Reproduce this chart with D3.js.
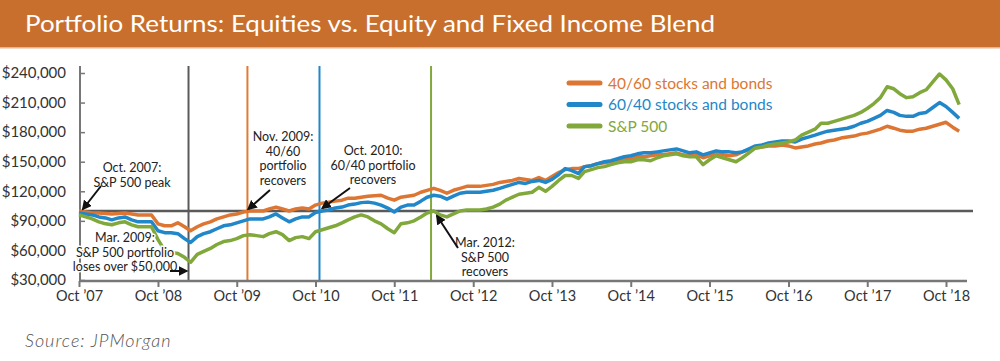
<!DOCTYPE html>
<html>
<head>
<meta charset="utf-8">
<script src="https://cdn.jsdelivr.net/npm/d3@7"></script>
<style>
  body { margin: 0; background: #fff; }
  svg { display: block; font-family: Lato, 'Open Sans', sans-serif; }
</style>
</head>
<body>
<div id="chart"></div>
<script>
const width = 1000;
const height = 361;

// chart data (values in $1,000s, monthly from Oct 2007)
const startMonth = '2007-10';
const endMonth = '2018-12';
const seriesNames = ['40/60 stocks and bonds', '60/40 stocks and bonds', 'S&P 500'];
const seriesColors = ['#dc7632', '#2187c9', '#80a83b'];

const blend4060 = [
  100, 99, 98, 98, 97.5, 97, 97.5, 98, 97, 96,
  96, 96, 87, 85, 85, 88, 84, 80, 84, 87,
  89, 92, 94, 96, 97, 99, 100, 100, 100, 102,
  104, 102, 100, 102, 103, 102, 106, 108, 109, 110,
  111, 113, 113, 114, 115, 115.5, 116, 113, 111, 114,
  115, 116, 119, 121, 123, 121, 118, 121, 123, 125,
  125, 125, 126, 127, 129, 130, 131, 133, 132, 131,
  134, 131, 135, 139, 142, 143, 143, 145, 146, 148,
  149, 150, 151, 152, 153, 155, 155, 156, 157, 157,
  158, 159, 157, 156, 157, 154, 156, 158, 157, 156,
  157, 160, 162, 164, 165, 166, 166, 167, 166, 164,
  165, 166, 168, 169, 171, 172, 174, 175, 176, 178,
  179, 181, 183, 186, 184, 182, 181, 181, 183, 184,
  186, 188, 190, 185, 181
];
const blend6040 = [
  98, 97, 96, 94, 93, 91, 93, 94, 91, 89,
  89, 89, 80, 78, 78, 77, 72, 68, 74, 77,
  79, 82, 85, 86, 88, 90, 92, 92, 92, 94,
  97, 93, 89, 92, 94, 94, 98.5, 100, 101, 103,
  104, 106, 107, 108.5, 109, 108, 106, 103, 99, 104,
  106, 106, 110, 114, 116, 115, 112, 115, 118, 119,
  119, 119, 120, 121, 123, 125, 127, 129, 128, 130,
  131, 129, 132, 137, 143, 141, 138, 145, 146, 148,
  150, 151, 153, 155, 156, 158, 159, 159, 160, 161,
  162, 163, 161, 159, 160, 157, 159, 161, 160, 160,
  159, 160, 163, 166, 167, 169, 170, 171, 171, 170,
  173, 175, 177, 179, 181, 182, 183, 184, 186, 189,
  191, 194, 197, 202, 200, 197, 196, 196, 199, 200,
  205, 210, 206, 200, 194
];
const sp500 = [
  96, 94, 92, 89, 87, 86, 88, 89, 86, 84,
  84, 84, 71, 60, 58, 57, 53, 48, 56, 59,
  62, 66, 69, 70, 72, 75, 76, 75, 74, 77,
  79, 76, 70, 73, 74, 72, 79, 81, 83, 85,
  88, 91, 94, 96, 94, 90, 87, 82, 78, 87,
  88, 90, 94, 98, 100, 96, 94, 97, 100, 101,
  101, 101, 102, 104, 107, 111, 114, 117, 118, 119,
  124, 120, 125, 131, 136, 136, 133, 140, 142, 144,
  145, 147, 149, 150, 150, 152, 152, 151, 154, 156,
  157, 158, 156, 155, 155, 147, 152, 156, 154, 152,
  150, 154, 159, 164, 165, 167, 168, 169, 170, 172,
  177, 180, 183, 189, 189, 191, 193, 195, 197, 200,
  204, 209, 215, 226, 224, 219, 215, 216, 220, 223,
  231, 239, 233, 224, 208
];

const yTicks = [30000, 60000, 90000, 120000, 150000, 180000, 210000, 240000];
const xTickDates = ['2007-10', '2008-10', '2009-10', '2010-10', '2011-10', '2012-10',
  '2013-10', '2014-10', '2015-10', '2016-10', '2017-10', '2018-10'];
const xTickLabels = ['Oct \u201907', 'Oct \u201908', 'Oct \u201909', 'Oct \u201910', 'Oct \u201911', 'Oct \u201912',
  'Oct \u201913', 'Oct \u201914', 'Oct \u201915', 'Oct \u201916', 'Oct \u201917', 'Oct \u201918'];

const breakEven = 100000;
const eventDates = ['2009-02', '2009-11', '2010-10', '2012-03'];
const eventColors = ['#5a5a5a', '#e07a35', '#2187c9', '#80a83b'];

const notes = [
  {lines: ['Oct. 2007:', 'S&P 500 peak'], date: '2007-10', value: 100},
  {lines: ['Mar. 2009:', 'S&P 500 portfolio', 'loses over $50,000'], date: '2009-02', value: 48},
  {lines: ['Nov. 2009:', '40/60', 'portfolio', 'recovers'], date: '2009-11', value: 100},
  {lines: ['Oct. 2010:', '60/40 portfolio', 'recovers'], date: '2010-10', value: 100},
  {lines: ['Mar. 2012:', 'S&P 500', 'recovers'], date: '2012-03', value: 100}
];

const parseMonth = d3.timeParse('%Y-%m');
let svg;

window.addEventListener('load', () => {
  drawChart();
});

const drawChart = () => {
  const months = d3.timeMonth.range(parseMonth(startMonth), d3.timeMonth.offset(parseMonth(endMonth), 1));
  const allSeries = [blend4060, blend6040, sp500];

  svg = d3.select('#chart')
    .append('svg')
    .attr('width', width)
    .attr('height', height);

  // title banner
  svg.append('rect')
    .attr('x', 0).attr('y', 0)
    .attr('width', width).attr('height', 47)
    .attr('fill', '#c96f2d');
  svg.append('rect')
    .attr('x', 0).attr('y', 47)
    .attr('width', width).attr('height', 1.5)
    .attr('fill', '#e9b48c');
  svg.append('text')
    .attr('x', 25).attr('y', 32)
    .attr('fill', '#fff')
    .attr('font-size', 24)
    .attr('textLength', 690)
    .attr('lengthAdjust', 'spacingAndGlyphs')
    .text('Portfolio Returns: Equities vs. Equity and Fixed Income Blend');

  // scales
  const x = d3.scaleTime()
    .domain([parseMonth('2007-10'), parseMonth('2018-10')])
    .range([79, 946]);
  const y = d3.scaleLinear()
    .domain([30000, 240000])
    .range([280, 73]);

  // event lines
  eventDates.forEach((d, i) => {
    svg.append('line')
      .attr('x1', x(parseMonth(d)) + 4).attr('x2', x(parseMonth(d)) + 4)
      .attr('y1', 66).attr('y2', 280)
      .attr('stroke', eventColors[i])
      .attr('stroke-width', 2);
  });

  // break-even line
  svg.append('line')
    .attr('x1', 80).attr('x2', 973)
    .attr('y1', y(breakEven)).attr('y2', y(breakEven))
    .attr('stroke', '#5a5a5a')
    .attr('stroke-width', 2.5);

  // y-axis
  const yAxis = svg.append('g')
    .attr('transform', 'translate(80, 0)')
    .call(d3.axisLeft(y)
      .tickValues(yTicks)
      .tickSizeInner(-5)
      .tickSizeOuter(0)
      .tickPadding(14)
      .tickFormat(d => '$' + d3.format(',')(d)));
  yAxis.select('.domain').remove();
  yAxis.selectAll('line').attr('stroke', '#777').attr('stroke-width', 1.5);
  yAxis.selectAll('text').attr('font-size', 15).attr('fill', '#333').style('font-family', 'Lato, sans-serif');
  svg.append('line')
    .attr('x1', 80).attr('x2', 80)
    .attr('y1', 66).attr('y2', 281)
    .attr('stroke', '#777').attr('stroke-width', 2);

  // x-axis
  const xAxis = svg.append('g')
    .attr('transform', 'translate(0, 281)')
    .call(d3.axisBottom(x)
      .tickValues(xTickDates.map(parseMonth))
      .tickSizeInner(6)
      .tickSizeOuter(0)
      .tickPadding(4)
      .tickFormat((d, i) => xTickLabels[i]));
  xAxis.select('.domain').remove();
  xAxis.selectAll('line').attr('stroke', '#777').attr('stroke-width', 2);
  xAxis.selectAll('text').attr('font-size', 14.5).attr('fill', '#333').style('font-family', 'Lato, sans-serif');
  svg.append('line')
    .attr('x1', 79).attr('x2', 967)
    .attr('y1', 281).attr('y2', 281)
    .attr('stroke', '#777').attr('stroke-width', 2.5);

  // series lines
  const line = d3.line()
    .x((d, i) => x(months[i]))
    .y(d => y(d * 1000));
  allSeries.forEach((s, i) => {
    svg.append('path')
      .datum(s)
      .attr('fill', 'none')
      .attr('stroke', seriesColors[i])
      .attr('stroke-width', 3.5)
      .attr('stroke-linejoin', 'round')
      .attr('d', line);
  });

  // legend
  seriesNames.forEach((name, i) => {
    const ly = 83 + i * 21.5;
    svg.append('line')
      .attr('x1', 569).attr('x2', 600)
      .attr('y1', ly).attr('y2', ly)
      .attr('stroke', seriesColors[i])
      .attr('stroke-width', 5)
      .attr('stroke-linecap', 'round');
    svg.append('text')
      .attr('x', 608).attr('y', ly + 5.5)
      .attr('fill', seriesColors[i])
      .attr('font-size', 15.5)
      .text(name);
  });

  // annotations
  const noteText = (lines, cx, top) => {
    const t = svg.append('text')
      .attr('text-anchor', 'middle')
      .attr('font-size', 12.5)
      .attr('fill', '#222')
      .attr('stroke', '#fff')
      .attr('stroke-width', 3)
      .attr('paint-order', 'stroke');
    lines.forEach((l, i) => {
      t.append('tspan').attr('x', cx).attr('y', top + i * 14.7).text(l);
    });
  };
  const arrow = (x1, y1, x2, y2) => {
    svg.append('line')
      .attr('x1', x1).attr('y1', y1).attr('x2', x2).attr('y2', y2)
      .attr('stroke', '#111').attr('stroke-width', 2)
      .attr('marker-end', 'url(#head)');
  };
  svg.append('defs').append('marker')
    .attr('id', 'head')
    .attr('viewBox', '0 0 10 10')
    .attr('refX', 8).attr('refY', 5)
    .attr('markerWidth', 5).attr('markerHeight', 5)
    .attr('orient', 'auto')
    .append('path')
    .attr('d', 'M0,0 L10,5 L0,10 Z')
    .attr('fill', '#111');

  const nx = d => x(parseMonth(d));
  noteText(notes[0].lines, 132, 172);
  arrow(101, 186, nx(notes[0].date) + 4, y(notes[0].value * 1000) - 2);
  noteText(notes[1].lines, 125, 242);
  arrow(170, 271, nx(notes[1].date) + 2, 271);
  noteText(notes[2].lines, 283, 141);
  arrow(270, 190, nx(notes[2].date) + 5, y(notes[2].value * 1000) - 2);
  noteText(notes[3].lines, 373, 155);
  arrow(350, 188, nx(notes[3].date) + 7, y(notes[3].value * 1000) - 3);
  noteText(notes[4].lines, 485, 247);
  arrow(458, 248, nx(notes[4].date) + 10, y(notes[4].value * 1000) + 5);

  // source
  svg.append('text')
    .attr('x', 25).attr('y', 347)
    .attr('fill', '#555')
    .attr('font-size', 18)
    .attr('letter-spacing', 1)
    .attr('font-style', 'italic')
    .attr('font-weight', 300)
    .text('Source: JPMorgan');
};
</script>
</body>
</html>
